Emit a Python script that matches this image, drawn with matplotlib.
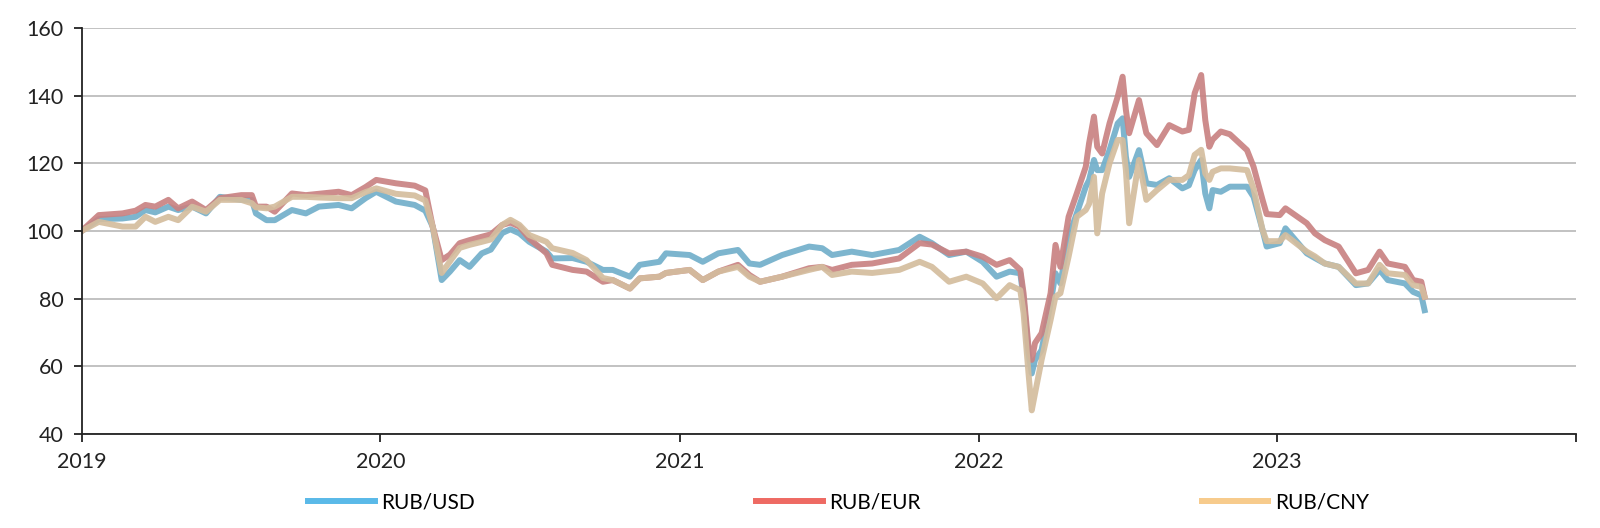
import pandas as pd
import matplotlib.pyplot as plt
from matplotlib.lines import Line2D

plt.rcParams['font.family'] = ['Lato', 'DejaVu Sans']

dates = ['2019-01-01', '2019-01-22', '2019-02-20', '2019-03-08', '2019-03-20',
         '2019-04-01', '2019-04-17', '2019-04-29', '2019-05-16', '2019-06-02',
         '2019-06-19', '2019-07-15', '2019-07-28', '2019-08-02', '2019-08-15',
         '2019-08-25', '2019-09-15', '2019-10-02', '2019-10-18', '2019-11-11',
         '2019-11-27', '2019-12-14', '2019-12-27', '2020-01-20', '2020-02-12',
         '2020-02-25', '2020-03-05', '2020-03-16', '2020-03-26', '2020-04-07',
         '2020-04-19', '2020-05-04', '2020-05-15', '2020-05-29', '2020-06-08',
         '2020-06-19', '2020-07-01', '2020-07-22', '2020-07-29', '2020-08-23',
         '2020-09-09', '2020-09-29', '2020-10-11', '2020-11-01', '2020-11-13',
         '2020-12-07', '2020-12-15', '2021-01-13', '2021-01-29', '2021-02-17',
         '2021-03-13', '2021-03-27', '2021-04-09', '2021-05-06', '2021-06-08',
         '2021-06-24', '2021-07-06', '2021-07-30', '2021-08-24', '2021-09-26',
         '2021-10-21', '2021-11-05', '2021-11-26', '2021-12-17', '2022-01-06',
         '2022-01-23', '2022-02-08', '2022-02-21', '2022-02-25', '2022-03-03',
         '2022-03-07', '2022-03-11', '2022-03-19', '2022-03-30', '2022-04-05',
         '2022-04-11', '2022-04-21', '2022-05-01', '2022-05-12', '2022-05-16',
         '2022-05-22', '2022-05-26', '2022-06-01', '2022-06-10', '2022-06-20',
         '2022-06-26', '2022-06-30', '2022-07-04', '2022-07-16', '2022-07-25',
         '2022-08-07', '2022-08-22', '2022-09-07', '2022-09-15', '2022-09-22',
         '2022-09-30', '2022-10-05', '2022-10-10', '2022-10-14', '2022-10-24',
         '2022-11-04', '2022-11-25', '2022-12-03', '2022-12-14', '2022-12-19',
         '2023-01-04', '2023-01-11', '2023-02-06', '2023-02-16', '2023-02-28',
         '2023-03-17', '2023-04-07', '2023-04-22', '2023-05-06', '2023-05-16',
         '2023-06-06', '2023-06-16', '2023-06-26', '2023-06-30']

rub_usd = [100, 103.5, 103.7, 104.2, 106.2, 105.5, 107.2, 106.2, 107.2, 105.2,
           110.1, 109.2, 109.2, 105.2, 103.2, 103.2, 106.2, 105.2, 107.2, 107.7,
           106.7, 109.7, 111.6, 108.7, 107.7, 106.0, 101.3, 85.5, 88.0, 91.4,
           89.4, 93.4, 94.5, 99.4, 100.5, 99.3, 96.8, 93.9, 91.9, 92.0,
           90.9, 88.5, 88.5, 86.5, 90.0, 90.9, 93.4, 92.9, 90.9, 93.4,
           94.4, 90.4, 90.0, 92.9, 95.4, 94.9, 92.9, 93.9, 92.9, 94.4,
           98.3, 96.4, 92.9, 93.9, 90.9, 86.5, 88.0, 87.5, 80.0, 63.9,
           57.9, 61.9, 64.8, 78.6, 87.5, 84.5, 98.3, 105.2, 113.1, 115.0,
           121.0, 118.0, 118.0, 123.9, 131.8, 133.3, 122.0, 116.0, 123.9, 114.1,
           113.6, 115.6, 112.6, 113.5, 118.0, 121.0, 111.1, 106.7, 112.1, 111.6,
           113.1, 113.1, 110.1, 100.3, 95.4, 96.4, 100.8, 93.4, 92.0, 90.4,
           89.4, 84.0, 84.5, 88.5, 85.5, 84.5, 82.0, 81.0, 76.6]

rub_eur = [100, 104.7, 105.2, 106.0, 107.7, 107.2, 109.2, 106.7, 108.7, 106.2,
           109.7, 110.6, 110.6, 107.2, 107.2, 105.7, 111.1, 110.6, 111.0, 111.6,
           110.6, 113.0, 115.1, 114.1, 113.4, 112.0, 101.3, 91.4, 93.0, 96.4,
           97.3, 98.3, 99.0, 101.8, 102.5, 101.3, 97.8, 93.4, 90.0, 88.5,
           88.0, 85.0, 85.5, 83.0, 86.0, 86.5, 87.6, 88.5, 85.5, 88.0,
           90.0, 87.0, 85.0, 86.5, 89.0, 89.4, 88.5, 90.0, 90.4, 91.9,
           96.4, 96.0, 93.4, 93.9, 92.4, 90.0, 91.4, 88.5, 81.6, 65.8,
           61.9, 66.9, 69.8, 81.6, 95.9, 89.4, 104.2, 111.1, 119.0, 125.9,
           133.8, 124.9, 122.9, 131.8, 139.7, 145.6, 135.8, 128.9, 138.7, 128.9,
           125.4, 131.3, 129.4, 129.9, 140.7, 146.1, 132.8, 124.9, 127.0, 129.4,
           128.6, 123.9, 119.0, 109.2, 105.0, 104.7, 106.7, 102.3, 99.3, 97.3,
           95.4, 87.5, 88.5, 93.9, 90.4, 89.4, 85.5, 85.0, 80.6]

rub_cny = [100, 102.7, 101.3, 101.3, 104.2, 102.7, 104.2, 103.2, 107.2, 105.7,
           109.2, 109.2, 108.2, 107.0, 106.7, 107.2, 110.1, 110.1, 109.9, 109.7,
           109.7, 111.5, 112.6, 111.0, 110.5, 109.0, 101.3, 87.6, 91.0, 95.0,
           95.9, 96.8, 97.5, 101.8, 103.3, 101.8, 98.8, 96.8, 94.9, 93.5,
           91.4, 86.1, 85.5, 83.0, 86.0, 86.5, 87.6, 88.5, 85.5, 88.0,
           89.4, 86.5, 85.0, 86.5, 88.5, 89.4, 87.0, 88.0, 87.6, 88.5,
           90.9, 89.4, 85.0, 86.5, 84.5, 80.1, 84.0, 82.5, 75.7, 58.0,
           47.0, 52.0, 61.9, 73.7, 80.6, 81.6, 92.4, 104.2, 106.2, 108.0,
           116.0, 99.3, 111.1, 120.0, 126.9, 126.9, 118.0, 102.3, 121.0, 109.2,
           112.1, 115.1, 115.1, 116.5, 122.5, 124.0, 117.0, 115.1, 117.5, 118.5,
           118.5, 118.0, 112.5, 100.3, 97.0, 97.0, 98.8, 93.9, 92.5, 90.4,
           89.4, 84.5, 84.5, 90.0, 87.5, 87.0, 84.0, 83.5, 80.6]

labels = ['RUB/USD', 'RUB/EUR', 'RUB/CNY']
line_colors = ['#72AFCA', '#C98282', '#D4BD9E']
legend_colors = ['#5AB9E8', '#EE6A63', '#F7CB8C']

x = pd.to_datetime(dates)

fig = plt.figure(figsize=(16, 5.28), dpi=100)
ax = fig.add_axes([0.051, 0.178, 0.934, 0.769])

for series, c in zip([rub_usd, rub_eur, rub_cny], line_colors):
    ax.plot(x, series, color=c, lw=4.3, alpha=0.92, solid_joinstyle='round')

ax.set_ylim(40, 160)
ax.set_yticks(range(40, 161, 20))
ax.set_xlim(pd.Timestamp('2019-01-01'), pd.Timestamp('2024-01-01'))
years = [pd.Timestamp(f'{y}-01-01') for y in range(2019, 2025)]
ax.set_xticks(years)
ax.set_xticklabels(['2019', '2020', '2021', '2022', '2023', ''])

ax.grid(axis='y', color='#BDBDBD', lw=1.3)
ax.set_axisbelow(True)
for s in ['top', 'right']:
    ax.spines[s].set_visible(False)
for s in ['left', 'bottom']:
    ax.spines[s].set_color('#222222')
    ax.spines[s].set_linewidth(1.3)
ax.tick_params(axis='both', direction='out', length=6, width=1.3,
               color='#222222', labelsize=15.5, labelcolor='#222222', pad=7)

handles = [Line2D([0], [0], color=c, lw=4.3) for c in legend_colors]
fig.legend(handles, labels, loc='center', bbox_to_anchor=(0.524, 0.049),
           ncol=3, frameon=False, fontsize=15, handlelength=3.2,
           handletextpad=0.3, columnspacing=13.5)

fig.savefig('out.png', dpi=100)
